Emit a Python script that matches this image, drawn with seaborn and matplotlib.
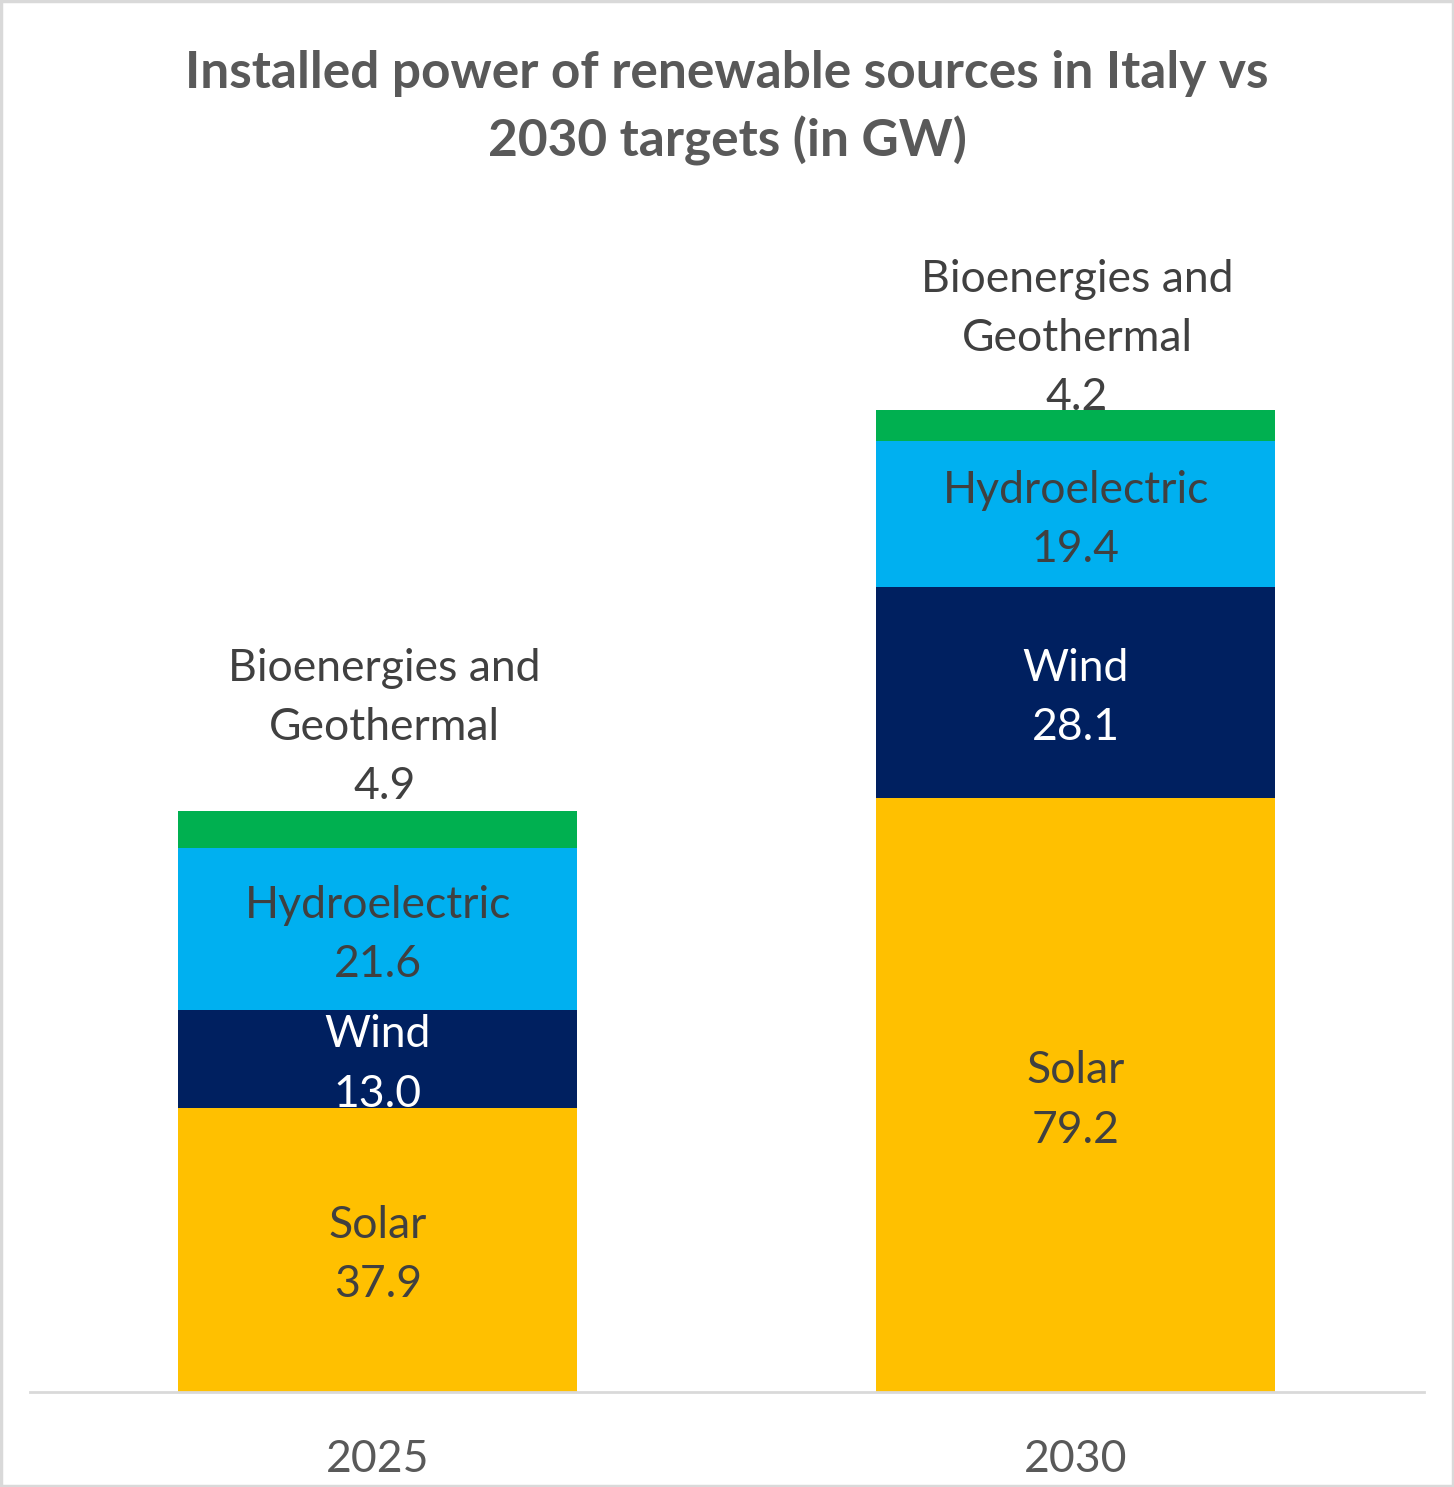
import matplotlib.pyplot as plt
import matplotlib.patches as mpatches
import seaborn as sns
import pandas as pd
import numpy as np

years = ["2025", "2030"]
sources = ["Solar", "Wind", "Hydroelectric", "Bioenergies and\nGeothermal"]
solar = [37.9, 79.2]
wind = [13.0, 28.1]
hydro = [21.6, 19.4]
bio = [4.9, 4.2]

colors = ["#FFC000", "#002060", "#00B0F0", "#00B050"]
text_colors = ["#404040", "#FFFFFF", "#404040", "#404040"]

sns.set_theme(style="white")
plt.rcParams["font.family"] = ["Lato", "DejaVu Sans"]

df = pd.DataFrame({"year": years, "Solar": solar, "Wind": wind,
                   "Hydroelectric": hydro, "Bio": bio})
layers = ["Solar", "Wind", "Hydroelectric", "Bio"]
tops = df[layers].cumsum(axis=1)
bottoms = tops.shift(1, axis=1).fillna(0)

fig = plt.figure(figsize=(14.54, 14.87), dpi=100)
ax = fig.add_axes([30 / 1454, 1 - 1392 / 1487, 1394 / 1454, (1392 - 200) / 1487])

# draw cumulative totals from the top layer down so each one covers the next
for layer, color in reversed(list(zip(layers, colors))):
    sns.barplot(x=df["year"], y=tops[layer], color=color, width=0.572,
                saturation=1, ax=ax, linewidth=0)

ax.set_xlim(-0.498, 1.499)
ax.set_ylim(0, (1392 - 200) / 7.502)

label_size = 32
for i, year in enumerate(years):
    for j, layer in enumerate(layers[:3]):
        val = df.loc[i, layer]
        mid = bottoms.loc[i, layer] + val / 2
        ax.annotate(f"{sources[j]}\n{val:.1f}", xy=(i, mid), xytext=(0, -4),
                    textcoords="offset points", ha="center", va="center",
                    fontsize=label_size, color=text_colors[j], linespacing=1.55)

bio_offsets = [3, -6]
for i, year in enumerate(years):
    ax.annotate(f"{sources[3]}\n{df.loc[i, 'Bio']:.1f}", xy=(i, tops.loc[i, "Bio"]),
                xytext=(5 if i == 0 else 1, bio_offsets[i]), textcoords="offset points",
                ha="center", va="bottom", fontsize=label_size, color="#404040",
                linespacing=1.55)

ax.set_xlabel("")
ax.set_ylabel("")
ax.set_yticks([])
for side in ["left", "right", "top"]:
    ax.spines[side].set_visible(False)
ax.spines["bottom"].set_color("#D9D9D9")
ax.spines["bottom"].set_linewidth(2)
ax.tick_params(axis="x", length=0, pad=34, labelsize=label_size, labelcolor="#595959")

fig.text(0.5, 1 - 108 / 1487, "Installed power of renewable sources in Italy vs\n2030 targets (in GW)",
         ha="center", va="center", fontsize=37, fontweight="bold", color="#595959",
         linespacing=1.45)

fig.patches.append(mpatches.Rectangle((0.001, 0.001), 0.998, 0.998, transform=fig.transFigure,
                                      fill=False, edgecolor="#D9D9D9", linewidth=2.5))

fig.savefig("out.png", dpi=100)
